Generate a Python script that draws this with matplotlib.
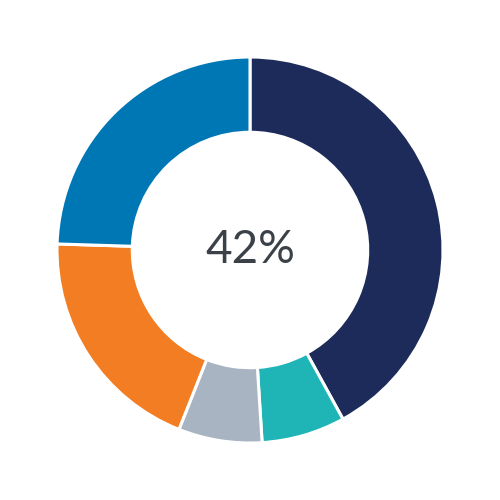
import matplotlib
matplotlib.use('Agg')
import matplotlib.pyplot as plt

# share of each segment, clockwise from 12 o'clock
SEGMENTS = ['Navy', 'Teal', 'Gray', 'Orange', 'Blue']
VALUES = [42, 7, 7, 19.5, 24.5]
COLORS = ['#1c2b59', '#1fb5b7', '#a8b4c2', '#f37d22', '#0077b5']
CENTER_LABEL = '42%'

OUTER_R = 1.0
RING_WIDTH = 0.39
HALF_SPAN = 250 / 193


def main():
    fig = plt.figure(figsize=(5, 5), dpi=100)
    ax = fig.add_axes([0, 0, 1, 1])
    ax.pie(VALUES, colors=COLORS, startangle=90, counterclock=False,
           radius=OUTER_R,
           wedgeprops=dict(width=RING_WIDTH, edgecolor='white', linewidth=2.2))
    ax.text(0, 0.0, CENTER_LABEL, ha='center', va='center', fontsize=33,
            color='#3b4148', family=['Lato', 'DejaVu Sans'])
    ax.set_xlim(-HALF_SPAN, HALF_SPAN)
    ax.set_ylim(-HALF_SPAN, HALF_SPAN)
    ax.set_aspect('equal')
    ax.axis('off')
    fig.savefig('out.png', dpi=100, facecolor='white')


if __name__ == '__main__':
    main()
